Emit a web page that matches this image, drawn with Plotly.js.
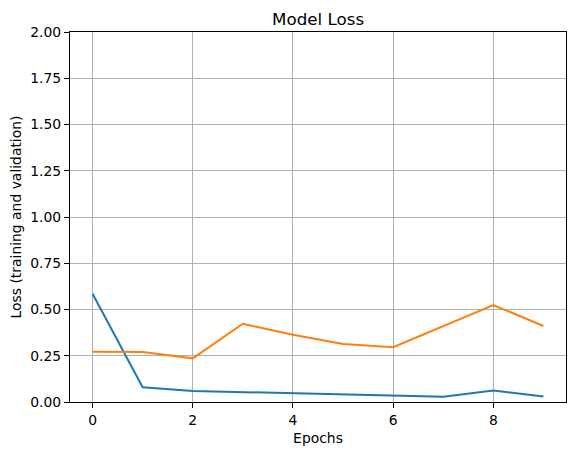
<!DOCTYPE html>
<html>
<head>
<meta charset="utf-8">
<script src="https://cdn.plot.ly/plotly-3.0.1.min.js"></script>
<style>html,body{margin:0;padding:0;background:#fff;}#chart{width:576px;height:455px;}</style>
</head>
<body>
<div id="chart"></div>
<script>
const epochs = [0, 1, 2, 3, 4, 5, 6, 7, 8, 9];
const trainLoss = [0.585, 0.080, 0.060, 0.054, 0.049, 0.043, 0.038, 0.028, 0.062, 0.030];
const valLoss = [0.272, 0.270, 0.236, 0.423, 0.363, 0.313, 0.296, 0.410, 0.524, 0.411];
const yTickVals = [0, 0.25, 0.5, 0.75, 1.0, 1.25, 1.5, 1.75, 2.0];

const font = {family: 'DejaVu Sans, sans-serif', size: 13.9, color: '#000'};

const traces = [
  {x: epochs, y: trainLoss, mode: 'lines', line: {color: '#1f77b4', width: 2}, name: 'train'},
  {x: epochs, y: valLoss, mode: 'lines', line: {color: '#ff7f0e', width: 2}, name: 'val'}
];

const axisCommon = {
  showline: true, linecolor: '#000', linewidth: 1, mirror: true,
  ticks: 'outside', ticklen: 5, tickwidth: 1, tickcolor: '#000',
  showgrid: true, gridcolor: '#b0b0b0', gridwidth: 1,
  zeroline: false, tickfont: font
};

const layout = {
  width: 576, height: 455,
  margin: {l: 70, r: 10, t: 32, b: 53},
  paper_bgcolor: '#fff', plot_bgcolor: '#fff',
  showlegend: false,
  font: font,
  title: {text: 'Model Loss', font: {family: 'DejaVu Sans, sans-serif', size: 16.7, color: '#000'},
          x: 0.5523, xanchor: 'center', yref: 'paper', y: 1, yanchor: 'bottom', pad: {b: 7}},
  xaxis: Object.assign({}, axisCommon, {
    range: [-0.45, 9.45], tickmode: 'linear', tick0: 0, dtick: 2,
    title: {text: 'Epochs', font: font, standoff: 6}
  }),
  yaxis: Object.assign({}, axisCommon, {
    range: [0, 2], tickmode: 'array', tickvals: yTickVals, tickformat: '.2f',
    title: {text: 'Loss (training and validation)', font: font, standoff: 5}
  })
};

Plotly.newPlot('chart', traces, layout, {displayModeBar: false, staticPlot: true});
</script>
</body>
</html>
